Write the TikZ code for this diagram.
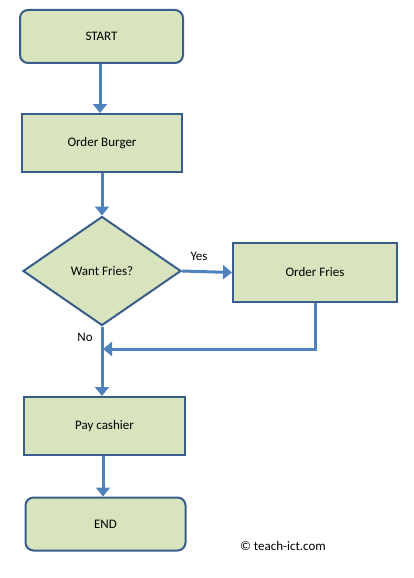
\documentclass[tikz,border=0pt]{standalone}
\usepackage{fontspec}
\setmainfont{Carlito}
\usetikzlibrary{shapes.geometric,arrows.meta}
\definecolor{boxfill}{RGB}{215,228,189}
\definecolor{boxdraw}{RGB}{56,93,138}
\definecolor{arr}{RGB}{79,129,189}
\begin{document}
\begin{tikzpicture}[x=1pt,y=-1pt,
  box/.style={draw=boxdraw,fill=boxfill,line width=2pt,minimum width=160pt,minimum height=58pt,font=\fontsize{13}{15}\selectfont},
  rbox/.style={box,rounded corners=8pt,minimum height=53pt},
  dia/.style={diamond,draw=boxdraw,fill=boxfill,line width=2pt,aspect=1.45,minimum width=158pt,minimum height=109pt,inner sep=0pt,font=\fontsize{13}{15}\selectfont},
  con/.style={draw=arr,line width=3pt,-{Triangle[length=9pt,width=14pt]}},
  lbl/.style={font=\fontsize{13}{15}\selectfont}]
\useasboundingbox (0,0) rectangle (413,578);
\node[rbox,minimum width=163pt] (start) at (101.5,36.5) {START};
\node[box] (burger) at (102,143) {Order Burger};
\node[dia] (fries) at (102,271) {Want Fries?};
\node[box,minimum width=164pt,minimum height=59pt] (ofries) at (315,272.5) {Order Fries};
\node[box,minimum width=161pt] (pay) at (104.5,426) {Pay cashier};
\node[rbox] (end) at (105.5,524) {END};
\coordinate (join) at (103,349);
\draw[con] (start.south -| 100,0) -- (burger.north -| 100,0);
\draw[con] (burger.south -| fries.north) -- (fries.north);
\draw[con] (fries.east) -- (ofries.west);
\draw[con] (ofries.south) |- (join);
\draw[con] (fries.south) -- (pay.north -| fries.south);
\draw[con] (pay.south -| 103,0) -- (end.north -| 103,0);
\node[lbl] (yes) at (199,256) {Yes};
\node[lbl] (no) at (85,337) {No};
\node[lbl] (copy) at (283,546) {© teach-ict.com};
\end{tikzpicture}
\end{document}
